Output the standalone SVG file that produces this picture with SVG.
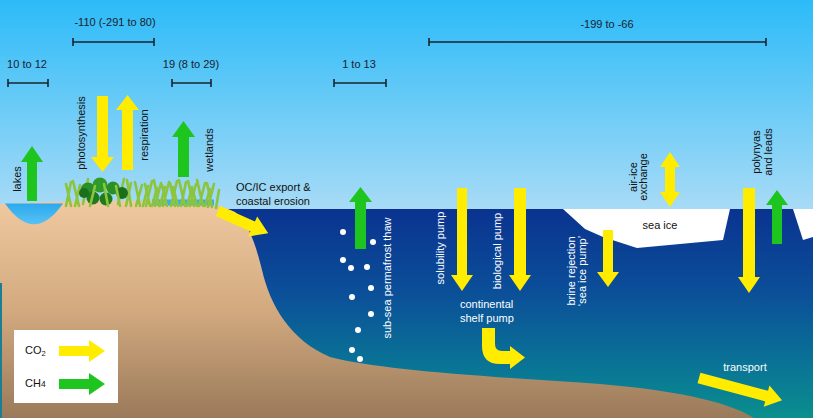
<svg xmlns="http://www.w3.org/2000/svg" width="813" height="418" viewBox="0 0 813 418">
<defs>
<linearGradient id="sky" x1="0" y1="0" x2="0" y2="210" gradientUnits="userSpaceOnUse">
<stop offset="0" stop-color="#2cbbf8"/>
<stop offset="1" stop-color="#a8dbf6"/>
</linearGradient>
<linearGradient id="sea" x1="0" y1="209" x2="0" y2="418" gradientUnits="userSpaceOnUse">
<stop offset="0" stop-color="#0a3390"/>
<stop offset="0.4" stop-color="#0b4f99"/>
<stop offset="0.75" stop-color="#0a7496"/>
<stop offset="1" stop-color="#0a8f8e"/>
</linearGradient>
<linearGradient id="land" x1="0" y1="200" x2="0" y2="418" gradientUnits="userSpaceOnUse">
<stop offset="0" stop-color="#f0c9a0"/>
<stop offset="0.5" stop-color="#d3aa80"/>
<stop offset="1" stop-color="#9a7a5a"/>
</linearGradient>
<linearGradient id="lake" x1="0" y1="203" x2="0" y2="226" gradientUnits="userSpaceOnUse">
<stop offset="0" stop-color="#2aa8ee"/>
<stop offset="1" stop-color="#5cc4f4"/>
</linearGradient>
<style>
text{font-family:"Liberation Sans",Arial,sans-serif;font-size:11px}
.dark{fill:#18222e}
.blk{fill:#111}
.wht{fill:#fff}
.y{fill:#ffec00}
.g{fill:#1ec51e}
.bar{stroke:#1a2530;stroke-width:1.6;fill:none}
.grass{stroke:#8cc43c;stroke-width:2.6;fill:none;stroke-linecap:round}
.bub{fill:#fff}
</style>
</defs>

<g id="background">
<rect x="0" y="0" width="813" height="418" fill="url(#sky)"/>
<rect x="0" y="209" width="813" height="209" fill="url(#sea)"/>
</g>

<g id="sea-ice">
<path d="M563,209 L730,209 L723,240 L637,248 L603,237 L585,229 Z" fill="#fff"/>
<path d="M793,209 L813,209 L813,237 L803,240 Z" fill="#fff"/>
<text x="660" y="229" text-anchor="middle" class="blk">sea ice</text>
</g>

<g id="land">
<path d="M0,204 C40,202 120,199 180,202 C205,203 224,206 235,212 C248,222 255,242 262,270 C270,305 290,340 330,357 C380,370 480,376 600,384 C670,390 725,400 754,418 L0,418 Z" fill="url(#land)"/>
<rect x="0" y="283" width="2" height="135" fill="#1a7f95"/>
<path d="M5,203.5 Q34,245 63,203.5 Z" fill="url(#lake)"/>
<rect x="152" y="199.5" width="62" height="6" fill="#35b0ee"/>
</g>

<g id="vegetation">
<g class="grass">
<path d="M66,206 L71,182 M71,206 L66,184 M75,206 L80,185 M79,206 L73,181 M83,204 L88,179"/>
<path d="M118,204 L124,179 M126,206 L131,183 M131,206 L127,180 M136,206 L142,185 M140,206 L135,182"/>
<path d="M146,206 L152,181 M150,206 L145,184 M155,206 L161,183 M159,206 L154,180 M163,206 L169,182 M167,206 L162,185"/>
<path d="M171,206 L177,181 M175,206 L170,183 M181,206 L186,182 M185,206 L179,180 M190,206 L196,184 M194,206 L188,181"/>
<path d="M199,206 L205,183 M203,206 L197,180 M208,207 L214,184 M212,207 L207,183 M216,208 L219,190"/>
<path d="M143,206 L148,186 M152,206 L157,188 M160,206 L165,187 M178,206 L173,187 M187,206 L192,188 M197,206 L192,187 M205,206 L210,189"/>
</g>
<circle cx="88" cy="190" r="7.5" fill="#2a8f25"/>
<circle cx="100" cy="185" r="7.5" fill="#2e9a28"/>
<circle cx="113" cy="188" r="6.5" fill="#2a8f25"/>
<circle cx="122" cy="193" r="6" fill="#1d6e1a"/>
<circle cx="93" cy="198" r="6.5" fill="#217a1e"/>
<circle cx="106" cy="199" r="6.5" fill="#1f7a1c"/>
<circle cx="84" cy="193" r="5" fill="#1d6e1a"/>
<g class="grass">
<path d="M90,206 L95,186 M108,206 L104,184 M120,206 L116,186"/>
</g>
</g>

<g id="ranges">
<text x="27" y="68" text-anchor="middle" class="dark">10 to 12</text>
<path class="bar" d="M8,83 H48 M8,79 V87 M48,79 V87"/>
<text x="115" y="26" text-anchor="middle" class="dark">-110 (-291 to 80)</text>
<path class="bar" d="M73,42 H154 M73,38 V46 M154,38 V46"/>
<text x="191" y="68" text-anchor="middle" class="dark">19 (8 to 29)</text>
<path class="bar" d="M172,83 H211 M172,79 V87 M211,79 V87"/>
<text x="359" y="68" text-anchor="middle" class="dark">1 to 13</text>
<path class="bar" d="M334,83 H386 M334,79 V87 M386,79 V87"/>
<text x="607" y="28" text-anchor="middle" class="dark">-199 to -66</text>
<path class="bar" d="M429,42 H766 M429,38 V46 M766,38 V46"/>
</g>

<g id="lakes">
<polygon class="g" points="27,201 37,201 37,162 43,162 32,146 21,162 27,162"/>
<text transform="translate(21,179) rotate(-90)" text-anchor="middle" class="blk">lakes</text>
</g>

<g id="photosynthesis">
<polygon class="y" points="97,96 108,96 108,157 114,157 102.5,172 91,157 97,157"/>
<text transform="translate(85,133) rotate(-90)" text-anchor="middle" class="blk">photosynthesis</text>
</g>

<g id="respiration">
<polygon class="y" points="122,170 133,170 133,110 139,110 127.5,95 116,110 122,110"/>
<text transform="translate(148,135) rotate(-90)" text-anchor="middle" class="blk">respiration</text>
</g>

<g id="wetlands">
<polygon class="g" points="178,177 189,177 189,137 195,137 183.5,121 172,137 178,137"/>
<text transform="translate(213,150) rotate(-90)" text-anchor="middle" class="blk">wetlands</text>
</g>

<g id="export">
<text x="236" y="191" class="blk">OC/IC export &amp;</text>
<text x="236" y="205" class="blk">coastal erosion</text>
<polygon class="y" transform="translate(218,211) rotate(24)" points="0,-5.5 38,-5.5 38,-11 55,0 38,11 38,5.5 0,5.5"/>
</g>

<g id="subsea-thaw">
<polygon class="g" points="355,249 366,249 366,202 372,202 360.5,187 349,202 355,202"/>
<circle class="bub" cx="343" cy="232" r="3"/>
<circle class="bub" cx="373" cy="242" r="3"/>
<circle class="bub" cx="343" cy="260" r="3"/>
<circle class="bub" cx="351" cy="268" r="3"/>
<circle class="bub" cx="367" cy="267" r="3"/>
<circle class="bub" cx="371" cy="288" r="3"/>
<circle class="bub" cx="352" cy="297" r="3"/>
<circle class="bub" cx="371" cy="314" r="3"/>
<circle class="bub" cx="358" cy="330" r="3"/>
<circle class="bub" cx="352" cy="350" r="3"/>
<circle class="bub" cx="360" cy="359" r="3"/>
<text transform="translate(391,278) rotate(-90)" text-anchor="middle" class="wht">sub-sea permafrost thaw</text>
</g>

<g id="solubility-pump">
<polygon class="y" points="457,188 467,188 467,275 473,275 462,291 451,275 457,275"/>
<text transform="translate(444,248) rotate(-90)" text-anchor="middle" class="wht">solubility pump</text>
</g>

<g id="biological-pump">
<polygon class="y" points="514,188 526,188 526,275 531,275 520,291 509,275 514,275"/>
<text transform="translate(501,251) rotate(-90)" text-anchor="middle" class="wht">biological pump</text>
</g>

<g id="shelf-pump">
<text x="460" y="308" class="wht">continental</text>
<text x="460" y="322" class="wht">shelf pump</text>
<path class="y" d="M482,328 L495,328 L495,344 Q495,351 502,351 L510,351 L510,346 L525,357.5 L510,369 L510,364 L500,364 Q482,364 482,346 Z"/>
</g>

<g id="brine-rejection">
<polygon class="y" points="603,230 613,230 613,272 619,272 608,287 597,272 603,272"/>
<text transform="translate(575,271) rotate(-90)" text-anchor="middle" class="wht">brine rejection</text>
<text transform="translate(586,271) rotate(-90)" text-anchor="middle" class="wht">‘sea ice pump’</text>
</g>

<g id="air-ice-exchange">
<polygon class="y" points="670,152 680,167 675,167 675,192 680,192 670,207 660,192 665,192 665,167 660,167"/>
<text transform="translate(637,177) rotate(-90)" text-anchor="middle" class="blk">air-ice</text>
<text transform="translate(647,177) rotate(-90)" text-anchor="middle" class="blk">exchange</text>
</g>

<g id="polynyas">
<polygon class="y" points="743,188 755,188 755,277 760,277 749,293 738,277 743,277"/>
<polygon class="g" points="772,244 782,244 782,205 788,205 777,190 766,205 772,205"/>
<text transform="translate(760,152) rotate(-90)" text-anchor="middle" class="blk">polynyas</text>
<text transform="translate(772,152) rotate(-90)" text-anchor="middle" class="blk">and leads</text>
</g>

<g id="transport">
<text x="745" y="371" text-anchor="middle" class="wht">transport</text>
<polygon class="y" transform="translate(699,378) rotate(15)" points="0,-5.5 70,-5.5 70,-11 86,0 70,11 70,5.5 0,5.5"/>
</g>

<g id="legend">
<rect x="14" y="330" width="104" height="73" fill="#fff"/>
<text x="25" y="354" class="blk">CO<tspan dy="2" style="font-size:7.5px">2</tspan></text>
<polygon class="y" points="59,346 89,346 89,340 105,351 89,362 89,356 59,356"/>
<text x="25" y="387" class="blk">CH<tspan style="font-size:8.5px">4</tspan></text>
<polygon class="g" points="59,379 89,379 89,373 105,384 89,395 89,389 59,389"/>
</g>
</svg>
